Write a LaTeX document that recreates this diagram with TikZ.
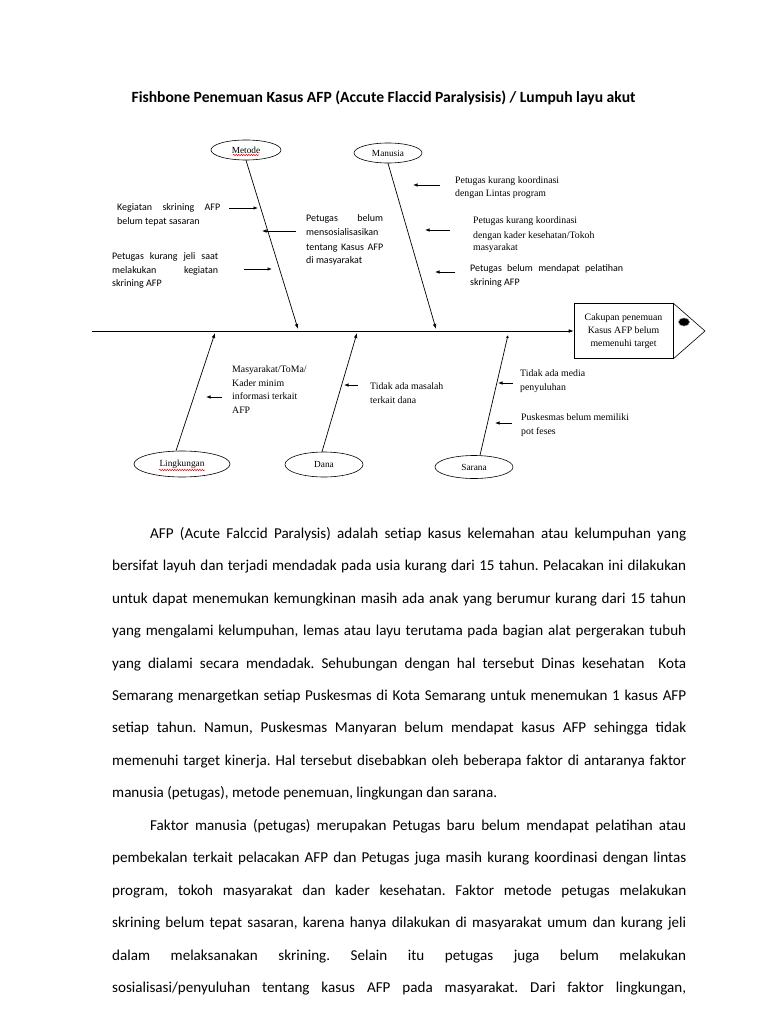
\documentclass[tikz,border=0pt]{standalone}
\usepackage{fontspec}
\setmainfont{Liberation Serif}
\newfontfamily\calib{Carlito}
\usetikzlibrary{arrows.meta,shapes.geometric,decorations.pathmorphing}
\newcommand\jl[2]{\makebox[#1][s]{#2}}
\frenchspacing
\begin{document}
\begin{tikzpicture}[x=1pt,y=-1pt,
  bone/.style={line width=0.7pt,-{Latex[length=5pt,width=3.6pt]}},
  tick/.style={line width=0.7pt,-{Latex[length=4.5pt,width=3.4pt]}},
  cat/.style={ellipse,draw,line width=0.6pt,inner sep=0pt,font=\fontsize{9.3}{11}\selectfont},
  sn/.style={inner sep=0pt,anchor=base west,font=\calib\fontsize{10}{12}\selectfont},
  sf/.style={inner sep=0pt,anchor=base west,font=\fontsize{9.8}{12}\selectfont},
  body/.style={inner sep=0pt,anchor=base west,font=\calib\fontsize{15.1}{18}\selectfont},
  squig/.style={draw=red,line width=0.5pt,decorate,decoration={snake,amplitude=0.7pt,segment length=2.5pt}}
]
\useasboundingbox[fill=white] (0,0) rectangle (768,1024);

% title
\node[inner sep=0pt,anchor=base,font=\calib\bfseries\fontsize{15.6}{18}\selectfont] (title) at (383.5,103)
  {Fishbone Penemuan Kasus AFP (Accute Flaccid Paralysisis) / Lumpuh layu akut};

% categories
\node[cat,minimum width=70pt,minimum height=20pt] (metode) at (246,150) {Metode};
\node[cat,minimum width=68pt,minimum height=20pt] (manusia) at (388,153) {Manusia};
\node[cat,minimum width=96pt,minimum height=26pt] (lingk) at (182,464) {Lingkungan};
\node[cat,minimum width=78pt,minimum height=25pt] (dana) at (324,464.5) {Dana};
\node[cat,minimum width=78pt,minimum height=23pt] (sarana) at (474,467) {Sarana};
\draw[squig] ([shift={(-13,5)}]metode.center) -- ([shift={(13,5)}]metode.center);
\draw[squig] ([shift={(-23,6)}]lingk.center) -- ([shift={(23,6)}]lingk.center);

% head
\node[draw,line width=0.6pt,minimum width=99pt,minimum height=55pt,inner sep=0pt,align=center,
      font=\fontsize{9.8}{13}\selectfont] (head) at (623.5,331)
  {Cakupan penemuan\\Kasus AFP belum\\memenuhi target};
\coordinate (tip) at (705,331);
\draw[line width=0.6pt] (head.north east) -- (tip) -- (head.south east);
\node[ellipse,draw=gray,fill=black,line width=0.5pt,minimum width=11pt,minimum height=8pt,inner sep=0pt] (dot) at (684,322) {};

% spine
\coordinate (sL) at (92,331);
\draw[bone] (sL) -- (head.west);

% bones
\coordinate (mE) at (298,329);
\draw[bone] (metode.south) -- (mE);
\coordinate (hE) at (436,329);
\draw[bone] (manusia.south) -- (hE);
\coordinate (lE) at (215,333);
\draw[bone] ([xshift=-6pt]lingk.north) -- (lE);
\coordinate (dE) at (357,333);
\draw[bone] ([xshift=-2pt]dana.north) -- (dE);
\coordinate (sE) at (508,335);
\draw[line width=0.7pt,-{Latex[length=3pt,width=3pt]}] ([xshift=6pt]sarana.north) -- (sE);

% Metode causes
\node[sn] (k1) at (117,211) {\jl{103pt}{Kegiatan skrining AFP}};
\node[sn] (k2) at (117,225) {belum tepat sasaran};
\coordinate (a1s) at (229,208); \coordinate (a1e) at (258,208);
\draw[tick] (a1s) -- (a1e);
\node[sn] (j1) at (112,259) {\jl{106pt}{Petugas kurang jeli saat}};
\node[sn] (j2) at (112,273) {\jl{106pt}{melakukan kegiatan}};
\node[sn] (j3) at (112,286) {skrining AFP};
\coordinate (a2s) at (244,269); \coordinate (a2e) at (272,269);
\draw[tick] (a2s) -- (a2e);
\node[sn] (s1) at (306,222) {\jl{77pt}{Petugas belum}};
\node[sn] (s2) at (306,236) {mensosialisasikan};
\node[sn] (s3) at (306,250) {\jl{77pt}{tentang Kasus AFP}};
\node[sn] (s4) at (306,263) {di masyarakat};
\coordinate (a3s) at (296,231); \coordinate (a3e) at (262,231);
\draw[tick] (a3s) -- (a3e);

% Manusia causes
\node[sf] (c1) at (455,184) {Petugas kurang koordinasi};
\node[sf] (c2) at (455,197) {dengan Lintas program};
\coordinate (b1s) at (440,185); \coordinate (b1e) at (413,185);
\draw[tick] (b1s) -- (b1e);
\node[sf] (d1) at (473,224) {Petugas kurang koordinasi};
\node[sf] (d2) at (473,238) {dengan kader kesehatan/Tokoh};
\node[sf] (d3) at (473,251) {masyarakat};
\coordinate (b2s) at (450,230); \coordinate (b2e) at (425,230);
\draw[tick] (b2s) -- (b2e);
\node[sn] (p1) at (470,271) {\jl{153pt}{Petugas belum mendapat pelatihan}};
\node[sn] (p2) at (470,285) {skrining AFP};
\coordinate (b3s) at (455,272); \coordinate (b3e) at (435,272);
\draw[tick] (b3s) -- (b3e);

% Lingkungan
\node[sf] (m1) at (232,372) {Masyarakat/ToMa/};
\node[sf] (m2) at (232,386) {Kader minim};
\node[sf] (m3) at (232,399) {informasi terkait};
\node[sf] (m4) at (232,413) {AFP};
\coordinate (e1s) at (222,397); \coordinate (e1e) at (206,397);
\draw[tick] (e1s) -- (e1e);

% Dana
\node[sf] (t1) at (370,389) {Tidak ada masalah};
\node[sf] (t2) at (370,403) {terkait dana};
\coordinate (f1s) at (358,385); \coordinate (f1e) at (344,385);
\draw[tick] (f1s) -- (f1e);

% Sarana
\node[sf] (u1) at (520,376) {Tidak ada media};
\node[sf] (u2) at (520,390) {penyuluhan};
\coordinate (g1s) at (513,383); \coordinate (g1e) at (498,383);
\draw[tick] (g1s) -- (g1e);
\node[sf] (v1) at (521,420) {Puskesmas belum memiliki};
\node[sf] (v2) at (521,434) {pot feses};
\coordinate (g2s) at (512,423); \coordinate (g2e) at (495,423);
\draw[tick] (g2s) -- (g2e);

% body text
\node[body] (L1) at (150,538) {\jl{536pt}{AFP (Acute Falccid Paralysis) adalah setiap kasus kelemahan atau kelumpuhan yang}};
\node[body] (L2) at (112,570.5) {\jl{574pt}{bersifat layuh dan terjadi mendadak pada usia kurang dari 15 tahun. Pelacakan ini dilakukan}};
\node[body] (L3) at (112,603) {\jl{574pt}{untuk dapat menemukan kemungkinan masih ada anak yang berumur kurang dari 15 tahun}};
\node[body] (L4) at (112,635) {\jl{574pt}{yang mengalami kelumpuhan, lemas atau layu terutama pada bagian alat pergerakan tubuh}};
\node[body] (L5) at (112,668) {\jl{574pt}{yang dialami secara mendadak. Sehubungan dengan hal tersebut Dinas kesehatan\ \ Kota}};
\node[body] (L6) at (112,700) {\jl{574pt}{Semarang menargetkan setiap Puskesmas di Kota Semarang untuk menemukan 1 kasus AFP}};
\node[body] (L7) at (112,732.5) {\jl{574pt}{setiap tahun. Namun, Puskesmas Manyaran belum mendapat kasus AFP sehingga tidak}};
\node[body] (L8) at (112,765) {\jl{574pt}{memenuhi target kinerja. Hal tersebut disebabkan oleh beberapa faktor di antaranya faktor}};
\node[body] (L9) at (112,797) {manusia (petugas), metode penemuan, lingkungan dan sarana.};
\node[body] (L10) at (150,830) {\jl{536pt}{Faktor manusia (petugas) merupakan Petugas baru belum mendapat pelatihan atau}};
\node[body] (L11) at (112,862.5) {\jl{574pt}{pembekalan terkait pelacakan AFP dan Petugas juga masih kurang koordinasi dengan lintas}};
\node[body] (L12) at (112,895) {\jl{574pt}{program, tokoh masyarakat dan kader kesehatan. Faktor metode petugas melakukan}};
\node[body] (L13) at (112,927) {\jl{574pt}{skrining belum tepat sasaran, karena hanya dilakukan di masyarakat umum dan kurang jeli}};
\node[body] (L14) at (112,960) {\jl{574pt}{dalam melaksanakan skrining. Selain itu petugas juga belum melakukan}};
\node[body] (L15) at (112,992) {\jl{574pt}{sosialisasi/penyuluhan tentang kasus AFP pada masyarakat. Dari faktor lingkungan,}};
\end{tikzpicture}
\end{document}
